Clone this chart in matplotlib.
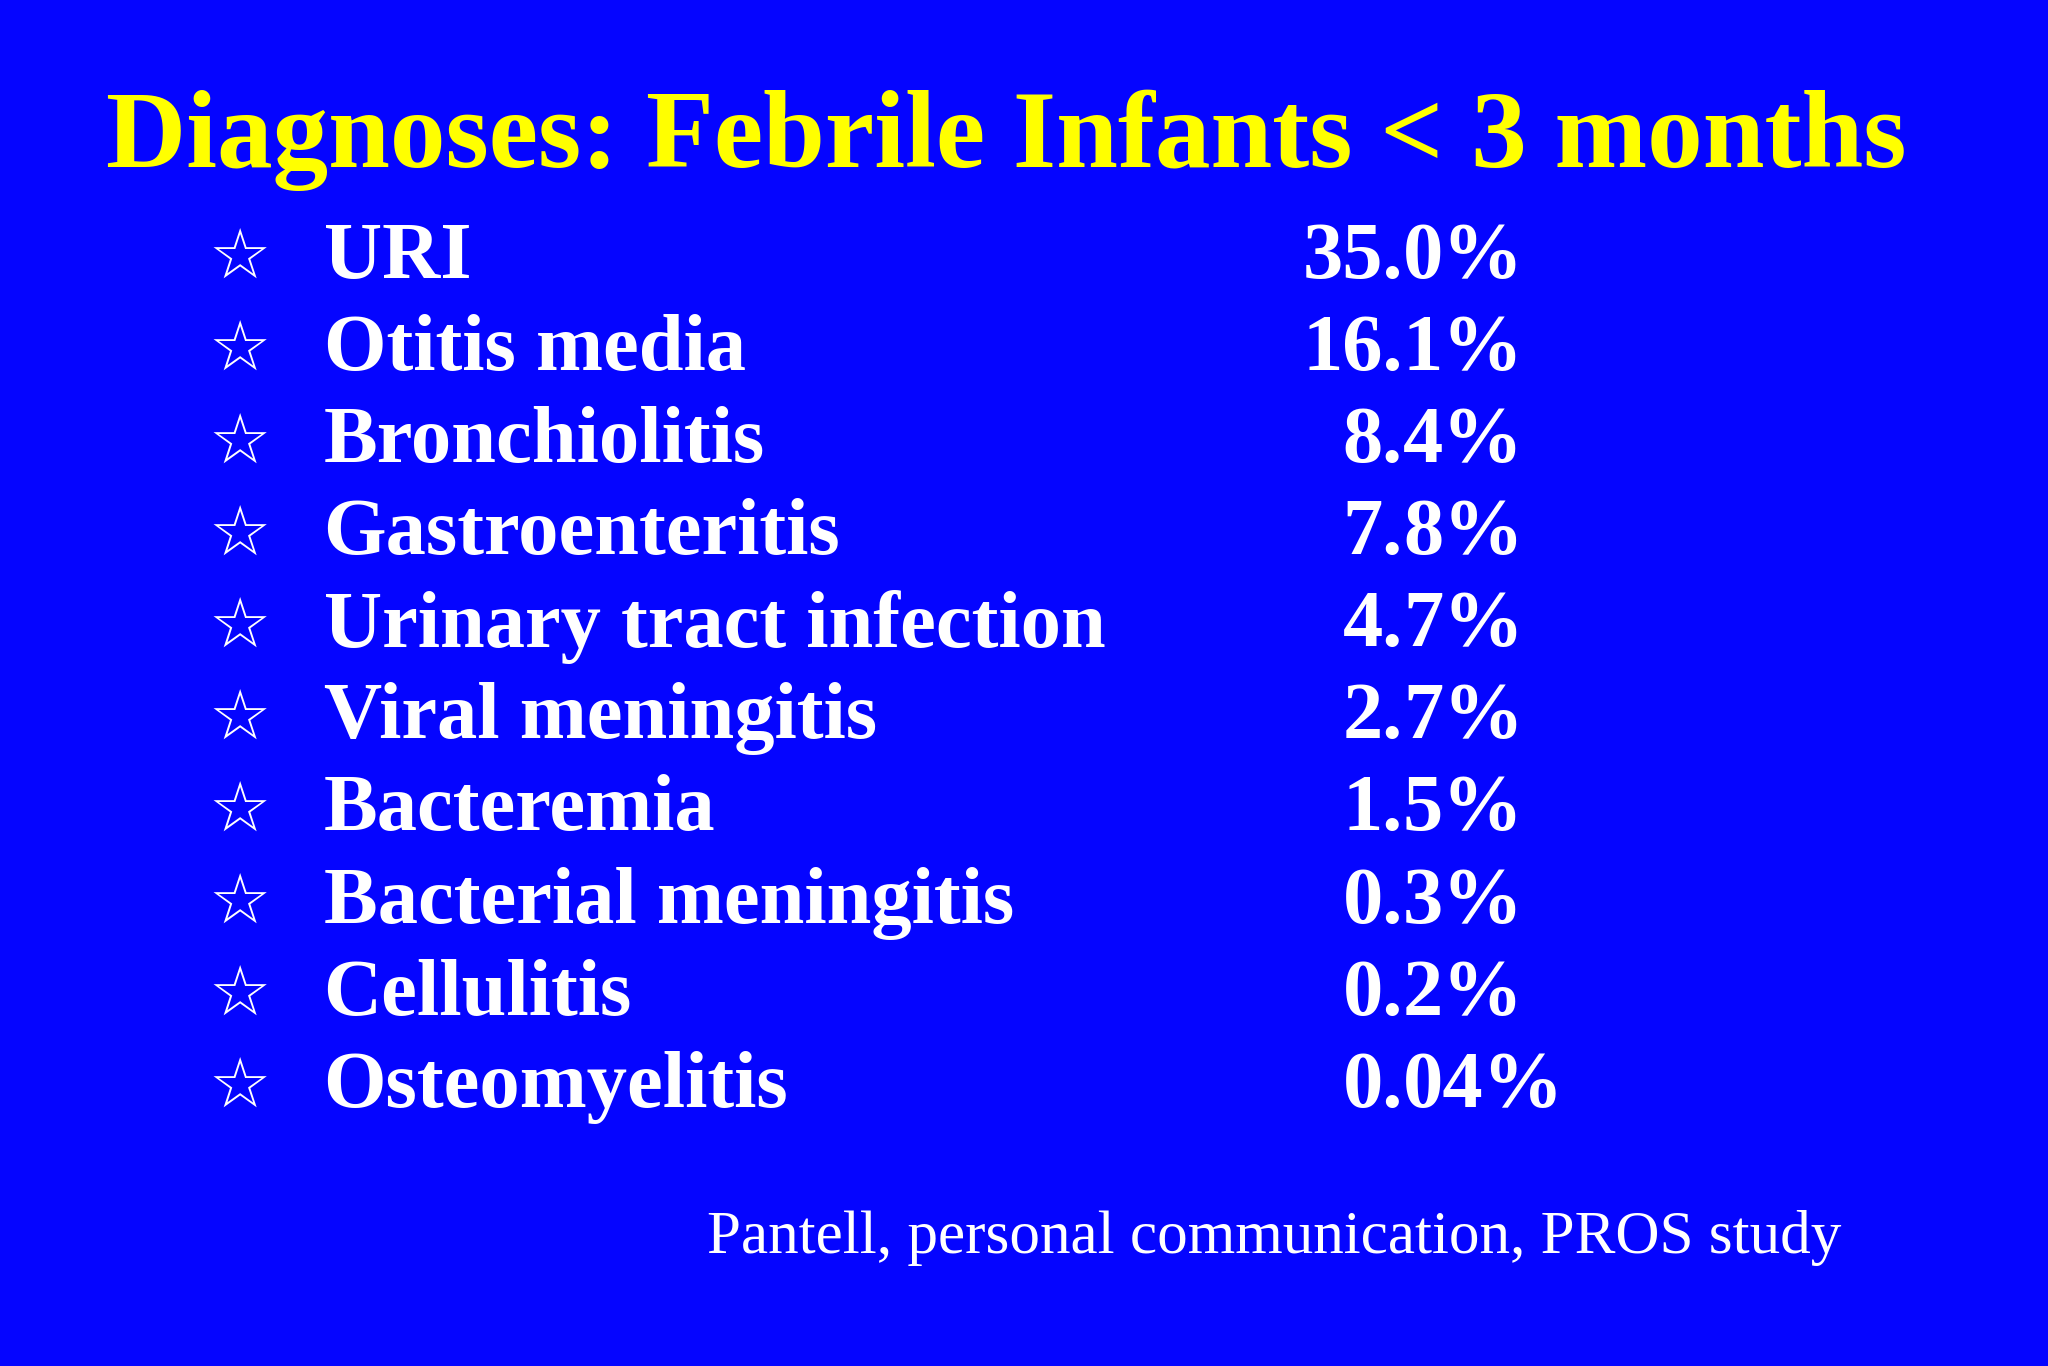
import matplotlib
matplotlib.use('Agg')
import matplotlib.pyplot as plt

title = 'Diagnoses: Febrile Infants < 3 months'
diagnoses = ['URI', 'Otitis media', 'Bronchiolitis', 'Gastroenteritis',
             'Urinary tract infection', 'Viral meningitis', 'Bacteremia',
             'Bacterial meningitis', 'Cellulitis', 'Osteomyelitis']
percents = ['35.0', '16.1', '8.4', '7.8', '4.7', '2.7', '1.5', '0.3', '0.2', '0.04']
source = 'Pantell, personal communication, PROS study'

serif = ['Liberation Serif', 'DejaVu Serif']
fig = plt.figure(figsize=(20.48, 13.66), dpi=100)
fig.patch.set_facecolor('#0505FF')

fig.text(0.052, 0.897, title, color='#FFFF00', fontsize=80, fontweight='bold',
         family=serif, ha='left', va='center')

top = 1 - 198 / 1046
step = 70.5 / 1046
for i, (name, pct) in enumerate(zip(diagnoses, percents)):
    y = top - i * step
    fig.text(0.102, y, '\u2606', color='white', fontsize=50, fontweight='bold',
             family=['DejaVu Sans'], ha='left', va='center')
    fig.text(0.158, y, name, color='white', fontsize=58, fontweight='bold',
             family=serif, ha='left', va='center')
    whole, frac = pct.split('.')
    fig.text(0.685, y, whole + '.', color='white', fontsize=58, fontweight='bold',
             family=serif, ha='right', va='center')
    fig.text(0.685, y, frac + '%', color='white', fontsize=58, fontweight='bold',
             family=serif, ha='left', va='center')

fig.text(0.899, 1 - 948 / 1046, source, color='white', fontsize=44,
         family=serif, ha='right', va='center')

fig.savefig('out.png', dpi=100, facecolor=fig.get_facecolor())
